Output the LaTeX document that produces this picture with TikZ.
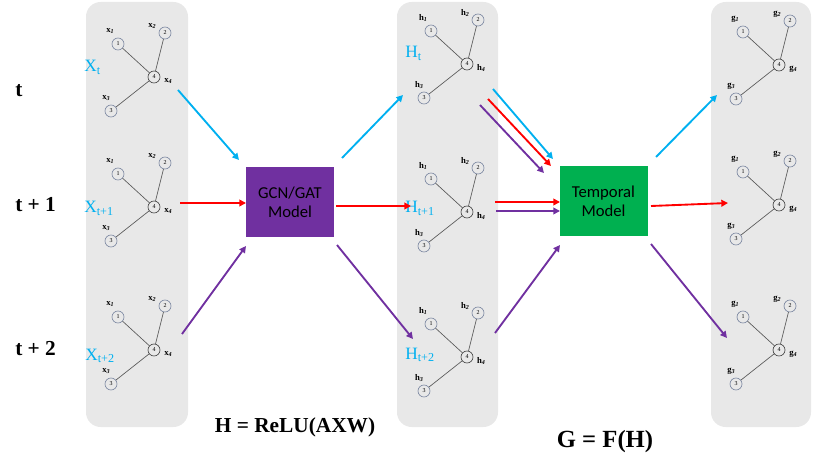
\documentclass[tikz,border=0pt]{standalone}
\usepackage{fontspec}
\usepackage{graphicx}
\setmainfont{Liberation Serif}
\newfontfamily\boxfont{Carlito}
\usetikzlibrary{arrows.meta}

\definecolor{skyc}{HTML}{00B0F0}
\definecolor{redc}{HTML}{FF0000}
\definecolor{purc}{HTML}{7030A0}
\definecolor{grnc}{HTML}{00B050}
\definecolor{panelc}{HTML}{E8E8E8}
\definecolor{ringc}{HTML}{7A86A0}

\newcommand{\lowtxt}[1]{\raisebox{-0.35ex}{\scalebox{0.7}{#1}}}

\begin{document}
\begin{tikzpicture}[x=0.75pt, y=-0.75pt,
  panel/.style={fill=panelc, rounded corners=11pt},
  model/.style={rectangle, minimum width=66pt, minimum height=52.5pt,
                inner sep=0pt, align=center, text=black,
                font=\boxfont\fontsize{12.5}{14}\selectfont},
  vtx/.style={circle, draw=ringc, fill=panelc, line width=0.5pt,
              minimum size=9pt, inner sep=0pt, font=\fontsize{4.5}{5}\selectfont},
  hub/.style={vtx, draw=black!75},
  vlab/.style={inner sep=0pt, font=\bfseries\fontsize{6.5}{7}\selectfont},
  edge/.style={draw=black!65, line width=0.5pt},
  arr/.style={-{Triangle[length=5pt,width=5pt]}, line width=1.4pt},
  tlab/.style={anchor=base west, inner sep=0pt, font=\bfseries\fontsize{16}{18}\selectfont},
  feat/.style={anchor=base west, inner sep=0pt, text=skyc, font=\fontsize{13}{14}\selectfont},
  eqn/.style={inner sep=0pt, font=\bfseries\fontsize{16}{18}\selectfont}
]
  \useasboundingbox (0,0) rectangle (813,470);

  % Panels
  \foreach \l/\r in {86/188, 397/498, 711/811} {
    \fill[panel] (\l,2) rectangle (\r,427);
  }

  % Graphs in each panel
  \foreach \q/\ch/\gx/\ya/\yb/\yc in {a/x/154/77/207/350, b/h/467/64/212/357, c/g/779/65/205/350} {
    \foreach \j/\y in {1/\ya, 2/\yb, 3/\yc} {
      \node[hub] (\q\j4) at (\gx,\y) {4};
      \node[vtx] (\q\j1) at (\gx-36,\y-33) {1};
      \node[vtx] (\q\j2) at (\gx+11,\y-44) {2};
      \node[vtx] (\q\j3) at (\gx-43,\y+34) {3};
      \foreach \k in {1,2,3} {
        \draw[edge] (\q\j\k) -- (\q\j4);
      }
      \node[vlab] (l\q\j1) at (\gx-44,\y-46) {\ch\lowtxt{\itshape 1}};
      \node[vlab] (l\q\j2) at (\gx-2,\y-51) {\ch\lowtxt{\itshape 2}};
      \node[vlab] (l\q\j3) at (\gx-48,\y+21) {\ch\lowtxt{\itshape 3}};
      \node[vlab] (l\q\j4) at (\gx+14,\y+4) {\ch\lowtxt{\itshape 4}};
    }
  }

  % Time steps
  \node[tlab] (row1) at (15,97) {t};
  \node[tlab] (row2) at (15,212) {t + 1};
  \node[tlab] (row3) at (15,355) {t + 2};

  % Features
  \node[feat] (xt1) at (84,72) {X\lowtxt{t}};
  \node[feat] (xt2) at (84,213) {X\lowtxt{t+1}};
  \node[feat] (xt3) at (85,360) {X\lowtxt{t+2}};
  \node[feat] (ht1) at (405,58) {H\lowtxt{t}};
  \node[feat] (ht2) at (405,213) {H\lowtxt{t+1}};
  \node[feat] (ht3) at (405,359) {H\lowtxt{t+2}};

  % Models
  \node[model, fill=purc] (gcn) at (290,202) {GCN/GAT\\Model};
  \node[model, fill=grnc] (tmp) at (603.5,201.5) {Temporal\\Model};

  % Arrows
  \foreach \i/\ax/\ay/\bx/\by/\col in {
      1/178/90/239/160/skyc, 2/180/203/246/203/redc, 3/182/334/246/246/purc,
      4/342/158/403/95/skyc, 5/336/206/411/206/redc, 6/337/245/413/339/purc,
      7/493/89/553/159/skyc, 8/488/99/551/166/redc, 9/480/105/544/173/purc,
      10/495/202/560/202/redc, 11/496/211/560/211/purc, 12/495/333/560/245/purc,
      13/656/157/717/95/skyc, 14/651/206/728/203/redc, 15/651/244/727/338/purc} {
    \coordinate (p\i) at (\ax,\ay);
    \coordinate (q\i) at (\bx,\by);
    \draw[arr, \col] (p\i) -- (q\i);
  }

  % Equations
  \node[eqn] (eq1) at (295,427) {H = ReLU(AXW)};
  \node[eqn, font=\bfseries\fontsize{18.5}{20}\selectfont] (eq2) at (605,442) {G = F(H)};
\end{tikzpicture}
\end{document}
